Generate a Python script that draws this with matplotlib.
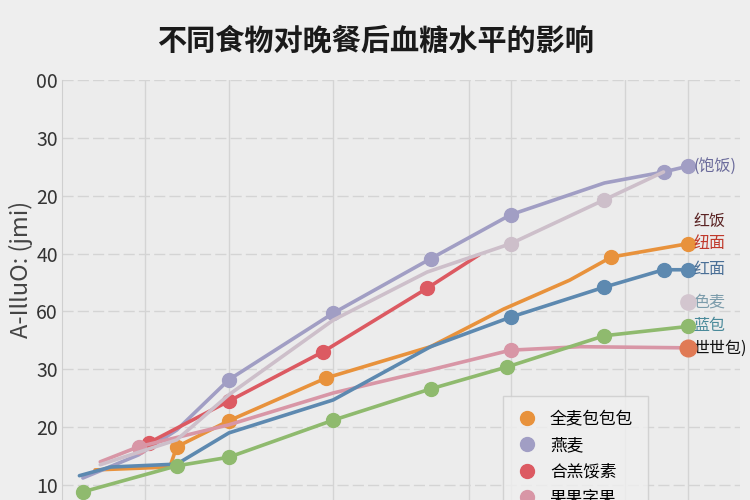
import matplotlib
matplotlib.use('Agg')
import matplotlib.pyplot as plt
from matplotlib.lines import Line2D

plt.rcParams['font.family'] = ['Noto Sans CJK SC', 'DejaVu Sans']

# series (time in minutes, glucose in axis units)
names = ['全麦包包包', '燕麦', '合羔馁素', '果果字果', '红面', '蓝包', '色麦']
colors = ['#e8923c', '#a19ec4', '#dc5a62', '#d896a6', '#5d89b0', '#8fba6e', '#cdbfca']

x_wheat = [9.5, 31, 33, 48, 76, 106, 127, 146, 158, 180]
y_wheat = [12.6, 13.1, 16.6, 21.1, 28.5, 33.9, 40.4, 45.4, 49.4, 51.7]
x_oat = [6, 22, 33, 48, 78, 106, 129, 156, 173, 180]
y_oat = [11.2, 15.2, 19.5, 28.2, 39.7, 49.1, 56.7, 62.2, 64.1, 65.1]
x_red = [25, 48, 75, 105, 120]
y_red = [17.3, 24.5, 33.0, 44.0, 49.8]
x_fruit = [11, 22, 48, 78, 106, 129, 149, 180]
y_fruit = [14.0, 16.6, 20.4, 25.9, 29.9, 33.3, 33.9, 33.7]
x_blue = [5, 14, 33, 48, 78, 106, 129, 156, 173, 180]
y_blue = [11.6, 13.1, 13.6, 19.0, 24.7, 33.9, 39.0, 44.2, 47.2, 47.2]
x_green = [6, 33, 48, 78, 106, 128, 156, 180]
y_green = [8.8, 13.3, 14.8, 21.2, 26.6, 30.4, 35.8, 37.4]
x_grey = [11, 33, 48, 78, 105, 129, 156, 173]
y_grey = [13.5, 17.8, 25.6, 38.5, 46.8, 51.7, 59.3, 64.1]

xs = [x_wheat, x_oat, x_red, x_fruit, x_blue, x_green, x_grey]
ys = [y_wheat, y_oat, y_red, y_fruit, y_blue, y_green, y_grey]
marks = [[2, 3, 4, 8, 9], [3, 4, 5, 6, 8, 9], [0, 1, 2, 3], [1, 5],
         [6, 7, 8, 9], [0, 1, 2, 3, 4, 5, 6, 7], [5, 6]]

# labels at the right end
end_labels = ['(饱饭)', '红饭', '纽面', '红面', '色麦', '蓝包', '世世包)']
end_y = [65.1, 55.5, 51.7, 47.2, 41.6, 37.5, 33.7]
end_colors = ['#6b6b9b', '#5a2323', '#c0392b', '#4a6f96', '#7c9cab', '#4a8a9a', '#111111']

yticks = [10, 20, 30, 40, 50, 60, 70, 80]
ytick_labels = ['10', '20', '30', '60', '40', '20', '30', '00']
xgrid = [24, 48, 78, 117, 129, 162, 180]

fig = plt.figure(figsize=(7.5, 5), dpi=100, facecolor='#eeeeee')
ax = fig.add_axes([0.0827, 0.0, 0.904, 0.84], facecolor='#ececec')

for x, y, c, m in zip(xs, ys, colors, marks):
    ax.plot(x, y, color=c, lw=2.6, marker='o', markersize=10, markevery=m,
            solid_capstyle='round', zorder=3)

# odd end marker and coral end dot
ax.plot([180], [41.6], 'o', color='#d3c6cf', markersize=11, zorder=4)
ax.plot([180], [33.7], 'o', color='#e07a55', markersize=12, zorder=4)

for lab, yv, c in zip(end_labels, end_y, end_colors):
    ax.text(181.5, yv, lab, color=c, fontsize=11.5, va='center', ha='left')

ax.set_xlim(0, 195)
ax.set_ylim(7.4, 80)
ax.set_yticks(yticks)
ax.set_yticklabels(ytick_labels, fontsize=14, color='#333333')
ax.set_xticks(xgrid)
ax.set_xticklabels([])
ax.tick_params(length=0, pad=3)
ax.grid(axis='y', color='#d4d4d4', lw=1, ls=(0, (8, 3)))
ax.grid(axis='x', color='#d4d4d4', lw=1)
for s in ['top', 'right', 'bottom']:
    ax.spines[s].set_visible(False)
ax.spines['left'].set_color('#cfcfcf')

ax.set_ylabel('A-IlluO: (jmi)', fontsize=17, color='#444444')
ax.yaxis.set_label_coords(-0.043, 0.55)

fig.text(0.5, 0.92, '不同食物对晚餐后血糖水平的影响', ha='center', va='center',
         fontsize=21, fontweight='bold', color='#1a1a1a')

handles = [Line2D([], [], ls='none', marker='o', markersize=10, color=c) for c in colors]
leg = fig.legend(handles, names, loc='upper left', bbox_to_anchor=(0.671, 0.208),
                 borderaxespad=0, fontsize=12, frameon=True, fancybox=False,
                 handlelength=1, handletextpad=0.9, labelspacing=0.55, borderpad=0.9)
leg.get_frame().set_facecolor('#efefef')
leg.get_frame().set_edgecolor('#cccccc')

fig.savefig('out.png', dpi=100, facecolor=fig.get_facecolor())
